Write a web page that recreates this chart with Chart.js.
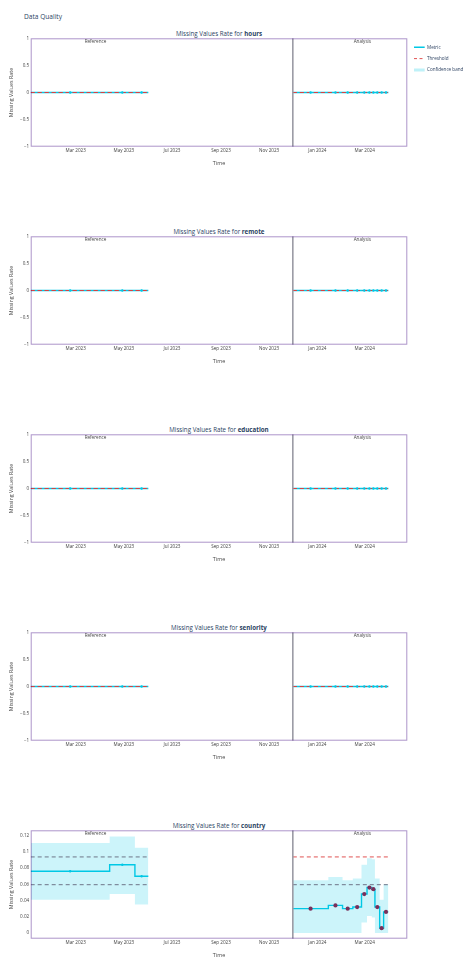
<!DOCTYPE html>
<html>
<head>
<meta charset="utf-8">
<script src="https://cdn.jsdelivr.net/npm/chart.js@4.4.1/dist/chart.umd.min.js"></script>
<style>
  html, body { margin: 0; padding: 0; background: #fff; }
  #wrap { position: relative; width: 474px; height: 970px; font-family: 'Open Sans', sans-serif; overflow: hidden; }
  .page-title { position: absolute; left: 24px; top: 13px; font-size: 6.6px; line-height: 8px; color: #2a3f5f; white-space: nowrap; }
  .sub-title { position: absolute; left: 30.7px; width: 376.6px; text-align: center; font-size: 6.2px; line-height: 8px; color: #2a3f5f; white-space: nowrap; }
  .sub-title b { font-weight: 700; }
  .box { position: absolute; left: 0; width: 474px; height: 150px; }
</style>
</head>
<body>
<div id="wrap">
  <div class="page-title">Data Quality</div>
</div>
<script>
// ---------------- data ----------------
const features = ['hours', 'remote', 'education', 'seniority', 'country'];

const refChunkStart = ['2023-01-03', '2023-04-13', '2023-05-15'];
const refEnd = '2023-06-01';
const anaChunkStart = ['2023-12-01', '2024-01-15', '2024-02-02', '2024-02-15', '2024-02-26',
                       '2024-03-04', '2024-03-10', '2024-03-14', '2024-03-20', '2024-03-25'];
const anaEnd = '2024-03-31';

const xTickDates  = ['2023-03-01', '2023-05-01', '2023-07-01', '2023-09-01', '2023-11-01', '2024-01-01', '2024-03-01'];
const xTickLabels = ['Mar 2023', 'May 2023', 'Jul 2023', 'Sep 2023', 'Nov 2023', 'Jan 2024', 'Mar 2024'];

const zeroYTicks = [-1, -0.5, 0, 0.5, 1];
const zeroYTickLabels = ['\u22121', '\u22120.5', '0', '0.5', '1'];
const countryYTicks = [0, 0.02, 0.04, 0.06, 0.08, 0.1, 0.12];
const countryYTickLabels = ['0', '0.02', '0.04', '0.06', '0.08', '0.1', '0.12'];

// hours
const hoursRefRate = [0, 0, 0];
const hoursAnaRate = [0, 0, 0, 0, 0, 0, 0, 0, 0, 0];
const hoursThreshold = [0, 0];            // [lower, upper]
// remote
const remoteRefRate = [0, 0, 0];
const remoteAnaRate = [0, 0, 0, 0, 0, 0, 0, 0, 0, 0];
const remoteThreshold = [0, 0];
// education
const educationRefRate = [0, 0, 0];
const educationAnaRate = [0, 0, 0, 0, 0, 0, 0, 0, 0, 0];
const educationThreshold = [0, 0];
// seniority
const seniorityRefRate = [0, 0, 0];
const seniorityAnaRate = [0, 0, 0, 0, 0, 0, 0, 0, 0, 0];
const seniorityThreshold = [0, 0];
// band for the all-zero features
const zeroRefBandUpper = [0, 0, 0];
const zeroRefBandLower = [0, 0, 0];
const zeroAnaBandUpper = [0, 0, 0, 0, 0, 0, 0, 0, 0, 0];
const zeroAnaBandLower = [0, 0, 0, 0, 0, 0, 0, 0, 0, 0];
// country
const countryRefRate = [0.076, 0.084, 0.070];
const countryRefBandUpper = [0.111, 0.119, 0.105];
const countryRefBandLower = [0.041, 0.048, 0.035];
const countryAnaRate = [0.030, 0.034, 0.030, 0.032, 0.048, 0.056, 0.054, 0.032, 0.006, 0.026];
const countryAnaBandUpper = [0.065, 0.069, 0.065, 0.067, 0.084, 0.092, 0.091, 0.067, 0.041, 0.060];
const countryAnaBandLower = [0, 0, 0, 0, 0.013, 0.021, 0.019, 0, 0, 0];
const countryThreshold = [0.0595, 0.0937];

// ---------------- helpers ----------------
const ts = d => Date.parse(d + 'T00:00:00Z');
const stepPoints = (starts, end, vals) => {
  const pts = starts.map((d, i) => ({ x: ts(d), y: vals[i] }));
  pts.push({ x: ts(end), y: vals[vals.length - 1] });
  return pts;
};
const midPoints = (starts, end, vals) => starts.map((d, i) => {
  const a = ts(d), b = ts(i + 1 < starts.length ? starts[i + 1] : end);
  return { x: (a + b) / 2, y: vals[i] };
});
const flat = (s, e, v) => [{ x: ts(s), y: v }, { x: ts(e), y: v }];

const CYAN = '#00c8e5';
const BAND = 'rgba(0,200,229,0.2)';
const RED = '#dd4040';
const GREY_THR = '#62667a';
const TEXT = '#2a3f5f';
const TICK = '#444';

const panels = [
  { name: 'hours', ref: hoursRefRate, ana: hoursAnaRate, thr: hoursThreshold,
    rbu: zeroRefBandUpper, rbl: zeroRefBandLower, abu: zeroAnaBandUpper, abl: zeroAnaBandLower,
    yMin: -1, yMax: 1, yt: zeroYTicks, ytl: zeroYTickLabels, zero: true },
  { name: 'remote', ref: remoteRefRate, ana: remoteAnaRate, thr: remoteThreshold,
    rbu: zeroRefBandUpper, rbl: zeroRefBandLower, abu: zeroAnaBandUpper, abl: zeroAnaBandLower,
    yMin: -1, yMax: 1, yt: zeroYTicks, ytl: zeroYTickLabels, zero: true },
  { name: 'education', ref: educationRefRate, ana: educationAnaRate, thr: educationThreshold,
    rbu: zeroRefBandUpper, rbl: zeroRefBandLower, abu: zeroAnaBandUpper, abl: zeroAnaBandLower,
    yMin: -1, yMax: 1, yt: zeroYTicks, ytl: zeroYTickLabels, zero: true },
  { name: 'seniority', ref: seniorityRefRate, ana: seniorityAnaRate, thr: seniorityThreshold,
    rbu: zeroRefBandUpper, rbl: zeroRefBandLower, abu: zeroAnaBandUpper, abl: zeroAnaBandLower,
    yMin: -1, yMax: 1, yt: zeroYTicks, ytl: zeroYTickLabels, zero: true },
  { name: 'country', ref: countryRefRate, ana: countryAnaRate, thr: countryThreshold,
    rbu: countryRefBandUpper, rbl: countryRefBandLower, abu: countryAnaBandUpper, abl: countryAnaBandLower,
    yMin: -0.007, yMax: 0.1265, yt: countryYTicks, ytl: countryYTickLabels, zero: false }
];

const xMin = '2023-01-03';
const xMax = '2024-04-24';

const framePlugin = {
  id: 'frame',
  afterDatasetsDraw(chart) {
    const { ctx, chartArea: a, scales: { x } } = chart;
    ctx.save();
    ctx.strokeStyle = 'rgba(59,2,128,0.42)';
    ctx.lineWidth = 1;
    ctx.strokeRect(a.left + 0.5, a.top + 0.5, a.right - a.left - 1, a.bottom - a.top - 1);
    ctx.font = '4.6px "Open Sans"';
    ctx.fillStyle = TICK;
    ctx.textAlign = 'center';
    ctx.textBaseline = 'middle';
    ctx.fillText('Reference', x.getPixelForValue(ts('2023-03-26')), a.top + 3.4);
    ctx.fillText('Analysis', x.getPixelForValue(ts('2024-02-27')), a.top + 3.4);
    ctx.restore();
  }
};

const wrap = document.getElementById('wrap');

panels.forEach((p, i) => {
  const t = document.createElement('div');
  t.className = 'sub-title';
  t.style.top = (29.7 + 198 * i) + 'px';
  t.innerHTML = 'Missing Values Rate for <b>' + p.name + '</b>';
  wrap.appendChild(t);

  const box = document.createElement('div');
  box.className = 'box';
  box.style.top = (22 + 198 * i) + 'px';
  const cv = document.createElement('canvas');
  cv.width = 474; cv.height = 150;
  cv.style.width = '474px'; cv.style.height = '150px';
  box.appendChild(cv);
  wrap.appendChild(box);

  const refThrColor = p.zero ? RED : GREY_THR;
  const anaLowColor = p.zero ? RED : GREY_THR;
  const anaMarkColor = p.zero ? CYAN : '#7a2f5a';
  const anaMarkRadius = p.zero ? 1.2 : 2.1;

  const base = { pointRadius: 0, pointHoverRadius: 0, tension: 0 };
  const datasets = [
    { ...base, label: 'refBandUpper', data: stepPoints(refChunkStart, refEnd, p.rbu), stepped: 'before',
      borderWidth: 0, borderColor: 'transparent', backgroundColor: BAND, fill: '+1', order: 10 },
    { ...base, label: 'refBandLower', data: stepPoints(refChunkStart, refEnd, p.rbl), stepped: 'before',
      borderWidth: 0, borderColor: 'transparent', fill: false, order: 10 },
    { ...base, label: 'anaBandUpper', data: stepPoints(anaChunkStart, anaEnd, p.abu), stepped: 'before',
      borderWidth: 0, borderColor: 'transparent', backgroundColor: BAND, fill: '+1', order: 10 },
    { ...base, label: 'anaBandLower', data: stepPoints(anaChunkStart, anaEnd, p.abl), stepped: 'before',
      borderWidth: 0, borderColor: 'transparent', fill: false, order: 10 },
    { ...base, label: 'refMetric', data: stepPoints(refChunkStart, refEnd, p.ref), stepped: 'before',
      borderColor: CYAN, borderWidth: 1.4, fill: false, order: 8 },
    { ...base, label: 'anaMetric', data: stepPoints(anaChunkStart, anaEnd, p.ana), stepped: 'before',
      borderColor: CYAN, borderWidth: 1.4, fill: false, order: 8 },
    { ...base, label: 'refThrUpper', data: flat(refChunkStart[0], refEnd, p.thr[1]),
      borderColor: refThrColor, borderWidth: 0.9, borderDash: [4, 3], fill: false, order: 6 },
    { ...base, label: 'refThrLower', data: flat(refChunkStart[0], refEnd, p.thr[0]),
      borderColor: refThrColor, borderWidth: 0.9, borderDash: [4, 3], fill: false, order: 6 },
    { ...base, label: 'anaThrUpper', data: flat(anaChunkStart[0], anaEnd, p.thr[1]),
      borderColor: RED, borderWidth: 0.9, borderDash: [4, 3], fill: false, order: 6 },
    { ...base, label: 'anaThrLower', data: flat(anaChunkStart[0], anaEnd, p.thr[0]),
      borderColor: anaLowColor, borderWidth: 0.9, borderDash: [4, 3], fill: false, order: 6 },
    { label: 'refMarkers', data: midPoints(refChunkStart, refEnd, p.ref), showLine: false,
      pointRadius: 1.2, pointBackgroundColor: CYAN, pointBorderWidth: 0, order: 4 },
    { label: 'anaMarkers', data: midPoints(anaChunkStart, anaEnd, p.ana), showLine: false,
      pointRadius: anaMarkRadius, pointBackgroundColor: anaMarkColor, pointBorderWidth: 0, order: 4 },
    { ...base, label: 'separator', data: [{ x: ts(anaChunkStart[0]), y: p.yMin }, { x: ts(anaChunkStart[0]), y: p.yMax }],
      borderColor: '#9b9ba5', borderWidth: 1.6, fill: false, order: 2 }
  ];

  const withLegend = i === 0;
  const chart = new Chart(cv, {
    type: 'line',
    data: { datasets },
    plugins: [framePlugin],
    options: {
      responsive: false,
      animation: false,
      devicePixelRatio: 1,
      layout: { padding: { top: 16.3, left: 0, right: withLegend ? 0 : 66.7, bottom: 0 } },
      plugins: {
        tooltip: { enabled: false },
        title: { display: false },
        legend: {
          display: withLegend,
          position: 'right',
          align: 'start',
          maxWidth: 90,
          labels: {
            usePointStyle: true,
            pointStyleWidth: 10.7,
            padding: 6.7,
            color: TEXT,
            font: { family: 'Open Sans', size: 4.6 },
            generateLabels: () => [
              { text: 'Metric', strokeStyle: CYAN, fillStyle: CYAN, lineWidth: 1.4, lineDash: [], pointStyle: 'line', fontColor: TEXT },
              { text: 'Threshold', strokeStyle: RED, fillStyle: RED, lineWidth: 0.9, lineDash: [3, 2.5], pointStyle: 'line', fontColor: TEXT },
              { text: 'Confidence band', strokeStyle: 'rgba(0,200,229,0.25)', fillStyle: BAND, lineWidth: 3, lineDash: [], pointStyle: 'line', fontColor: TEXT }
            ]
          }
        }
      },
      scales: {
        x: {
          type: 'linear',
          min: ts(xMin),
          max: ts(xMax),
          grid: { display: false, drawTicks: false, tickLength: 0 },
          border: { display: false },
          afterFit: s => { s.height = 25.3; },
          afterBuildTicks: s => { s.ticks = xTickDates.map(d => ({ value: ts(d) })); },
          ticks: {
            autoSkip: false, maxRotation: 0, padding: 1.5, color: TICK,
            font: { family: 'Open Sans', size: 4.6 },
            callback: (v, idx) => xTickLabels[idx]
          },
          title: { display: true, text: 'Time', color: TICK, font: { family: 'Open Sans', size: 5.4 }, padding: { top: 0, bottom: 4.8 } }
        },
        y: {
          type: 'linear',
          min: p.yMin,
          max: p.yMax,
          grid: { display: false, drawTicks: false, tickLength: 0 },
          border: { display: false },
          afterFit: s => { s.width = 30.7; },
          afterBuildTicks: s => { s.ticks = p.yt.map(v => ({ value: v })); },
          ticks: {
            padding: 1.5, color: TICK,
            font: { family: 'Open Sans', size: 4.6 },
            callback: (v, idx) => p.ytl[idx]
          },
          title: { display: true, text: 'Missing Values Rate', color: TICK, font: { family: 'Open Sans', size: 5.4 }, padding: { top: 7.76, bottom: 0 } }
        }
      }
    }
  });

  if (withLegend) {
    const diff = 407.3 - chart.chartArea.right;
    if (Math.abs(diff) > 0.05) {
      chart.options.layout.padding.right = Math.max(0, -diff);
      chart.options.plugins.legend.maxWidth = 474 - 407.3;
      chart.update('none');
    }
  }
});
</script>
</body>
</html>
